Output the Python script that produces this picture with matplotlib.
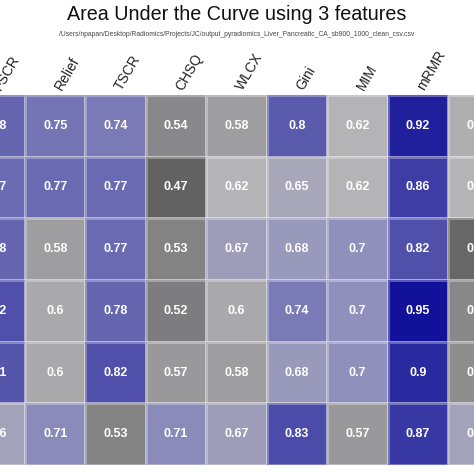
import matplotlib
matplotlib.use("Agg")
import matplotlib.pyplot as plt
import numpy as np
from matplotlib.colors import LinearSegmentedColormap, Normalize

plt.rcParams['font.family'] = ['Liberation Sans', 'DejaVu Sans']

# feature selection methods (columns); the outer two are cut off by the crop
methods = ['FSCR', 'Relief', 'TSCR', 'CHSQ', 'WLCX', 'Gini', 'MIM', 'mRMR', 'JMI']
# one row per classifier (row labels lie outside the visible area)
auc = [
    [0.78, 0.75, 0.74, 0.54, 0.58, 0.80, 0.62, 0.92, 0.61],
    [0.77, 0.77, 0.77, 0.47, 0.62, 0.65, 0.62, 0.86, 0.62],
    [0.78, 0.58, 0.77, 0.53, 0.67, 0.68, 0.70, 0.82, 0.48],
    [0.82, 0.60, 0.78, 0.52, 0.60, 0.74, 0.70, 0.95, 0.54],
    [0.81, 0.60, 0.82, 0.57, 0.58, 0.68, 0.70, 0.90, 0.55],
    [0.66, 0.71, 0.53, 0.71, 0.67, 0.83, 0.57, 0.87, 0.66],
]
title = 'Area Under the Curve using 3 features'
subtitle = '/Users/npapan/Desktop/Radiomics/Projects/JC/output_pyradiomics_Liver_Pancreatic_CA_sb900_1000_clean_csv.csv'

data = np.array(auc)
nrows, ncols = data.shape

# gray for poor scores, going to deep blue for good ones
vmin, vmax = 0.45, 0.96
nodes = [(0.45, '#575757'), (0.62, '#b4b4b7'), (0.70, '#9090bc'),
         (0.80, '#5a5aad'), (0.96, '#0c0c98')]
cmap = LinearSegmentedColormap.from_list(
    'auc', [((v - vmin) / (vmax - vmin), c) for v, c in nodes])
norm = Normalize(vmin, vmax)

fig = plt.figure(figsize=(4.74, 4.74), dpi=100)
ax = fig.add_axes([-35.4 / 474, 9 / 474, 544 / 474, 370 / 474])
ax.pcolormesh(data, cmap=cmap, norm=norm, edgecolors=(1, 1, 1, 0.3), linewidth=0.8)
ax.set_xlim(0, ncols)
ax.set_ylim(nrows, 0)
ax.axis('off')

for i in range(nrows):
    for j in range(ncols):
        ax.text(j + 0.5, i + 0.5, f'{data[i, j]:g}', ha='center', va='center',
                color='white', fontsize=9, fontweight='bold')

for j, m in enumerate(methods):
    ax.text(j + 0.45, -0.04, m, rotation=60, ha='left', va='bottom',
            fontsize=10, color='#222222')

fig.text(0.5, 1 - 14 / 474, title, ha='center', va='center', fontsize=14.2, color='#111111')
fig.text(0.5, 1 - 34 / 474, subtitle, ha='center', va='center', fontsize=4.9, color='#444444')

fig.savefig('out.png', dpi=100, facecolor='white')
